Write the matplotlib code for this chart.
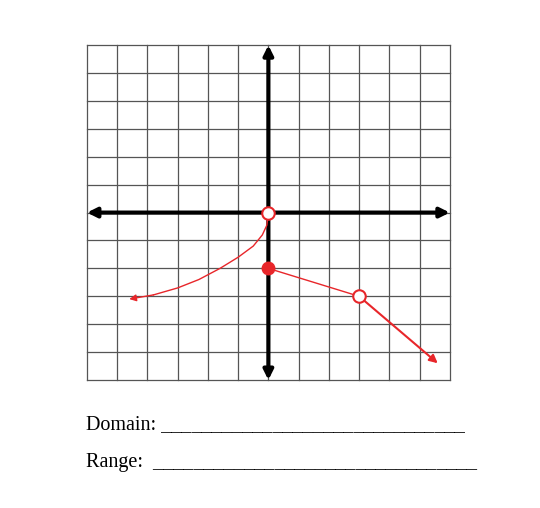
import matplotlib.pyplot as plt

# curve from open point at origin going down-left
curve_x = [0, -0.05, -0.2, -0.5, -1.0, -1.6, -2.3, -3.0, -3.8, -4.6]
curve_y = [0, -0.45, -0.8, -1.2, -1.6, -2.0, -2.4, -2.7, -2.95, -3.1]
# segment from filled point to open point, then ray
seg_x = [0, 3]
seg_y = [-2, -3]
ray_x = [3, 5.6]
ray_y = [-3, -5.4]
open_pts = [(0, 0), (3, -3)]
closed_pts = [(0, -2)]

red = '#e8262a'
fig = plt.figure(figsize=(5.4, 5.08), dpi=100)
ax = fig.add_axes([0.161, 0.252, 0.672, 0.659])
ax.set_xlim(-6, 6)
ax.set_ylim(-6, 6)
for v in range(-6, 7):
    ax.axvline(v, color='#555555', lw=0.9, zorder=1, clip_on=False)
    ax.axhline(v, color='#555555', lw=0.9, zorder=1, clip_on=False)
ax.axis('off')

# axes with arrows
akw = dict(arrowstyle='<|-|>', color='black', lw=3, mutation_scale=14, shrinkA=0, shrinkB=0)
ax.annotate('', xy=(6, 0), xytext=(-6, 0), arrowprops=akw, annotation_clip=False, zorder=3)
ax.annotate('', xy=(0, 6), xytext=(0, -6), arrowprops=akw, annotation_clip=False, zorder=3)

ax.plot(curve_x[:-1], curve_y[:-1], color=red, lw=1, zorder=4)
ax.annotate('', xy=(curve_x[-1], curve_y[-1]), xytext=(curve_x[-2], curve_y[-2]),
            arrowprops=dict(arrowstyle='-|>', color=red, lw=1, mutation_scale=10, shrinkA=0, shrinkB=0), zorder=4)
ax.plot(seg_x, seg_y, color=red, lw=1, zorder=4)
ax.annotate('', xy=(ray_x[1], ray_y[1]), xytext=(ray_x[0], ray_y[0]),
            arrowprops=dict(arrowstyle='-|>', color=red, lw=1.5, mutation_scale=12, shrinkA=0, shrinkB=0),
            annotation_clip=False, zorder=4)
for px, py in open_pts:
    ax.plot(px, py, 'o', ms=9, mfc='white', mec=red, mew=1.5, zorder=5)
for px, py in closed_pts:
    ax.plot(px, py, 'o', ms=9, color=red, zorder=5)

fig.text(86/540, 1 - 425/508, 'Domain: ' + '_' * 30, fontsize=14.5,
         family='Liberation Serif', va='center')
fig.text(86/540, 1 - 462/508, 'Range:  ' + '_' * 32, fontsize=14.5,
         family='Liberation Serif', va='center')
fig.savefig('out.png', dpi=100, facecolor='white')
